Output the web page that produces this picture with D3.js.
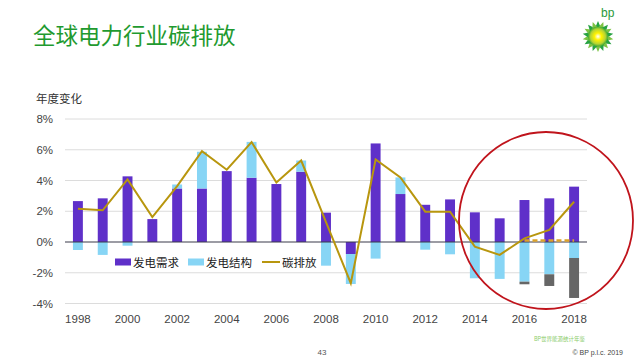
<!DOCTYPE html>
<html>
<head>
<meta charset="utf-8">
<script src="https://cdn.jsdelivr.net/npm/d3@7"></script>
<style>
  body { margin: 0; background: #fff; }
  text { font-family: "Liberation Sans", "Noto Sans CJK SC", sans-serif; }
</style>
</head>
<body>
<div class="d3Chart"></div>
<script>
//#region 資料

var years = d3.range(1998, 2019);
var tickYears = [1998, 2000, 2002, 2004, 2006, 2008, 2010, 2012, 2014, 2016, 2018];
var yTicks = [-4, -2, 0, 2, 4, 6, 8];

// 發電需求
var demand = [2.66, 2.84, 4.27, 1.49, 3.48, 3.48, 4.61, 4.18, 3.77, 4.57, 1.91,
  -0.78, 6.41, 3.12, 2.42, 2.77, 1.93, 1.54, 2.73, 2.84, 3.6];
// 發電結構
var structure = [-0.52, -0.84, -0.24, 0, 0.26, 2.39, 0, 2.33, 0, 0.73, -1.54,
  -1.95, -1.08, 1.08, -0.5, -0.8, -2.36, -2.4, -2.58, -2.1, -1.04];
// 其他 (灰色)
var other = [0, 0, 0, 0, 0, 0, 0, 0, 0, 0, 0,
  0, 0, 0, 0, 0, 0, 0, -0.17, -0.76, -2.6];
// 碳排放
var carbon = [2.16, 2.06, 4.07, 1.62, 3.64, 5.91, 4.7, 6.5, 3.87, 5.3, 1.3,
  -2.68, 5.37, 4.2, 1.97, 1.97, -0.3, -0.84, 0.24, 0.78, 2.62];
// 虛線
var dashYears = [2016, 2017, 2018];
var dashValues = [0.1, 0.1, 0.1];

var legendNames = ["发电需求", "发电结构", "碳排放"];

//#endregion

//#region 添加畫布

var width = 640;
var height = 360;
var svg = d3
  .select(".d3Chart")
  .append("svg")
  .attr("width", width)
  .attr("height", height)
  .style("background-color", "#fff");

var colors = { demand: "#5f30c9", structure: "#87d5f5", other: "#666666" };

//#endregion

//#region 比例尺

var x = d3
  .scaleBand()
  .domain(years)
  .range([65.5, 586.5])
  .paddingInner(0.6)
  .paddingOuter(0.3);

var y = d3.scaleLinear().domain([-4, 8]).range([303.5, 119]);

var rows = years.map((yr, i) => ({
  year: yr,
  demand: demand[i],
  structure: structure[i],
  other: other[i],
}));

var series = d3
  .stack()
  .keys(["demand", "structure", "other"])
  .offset(d3.stackOffsetDiverging)(rows);

//#endregion

//#region 標題與標誌

svg
  .append("text")
  .attr("x", 33)
  .attr("y", 44)
  .style("font-family", "'Noto Sans CJK SC'")
  .style("font-size", "22.5px")
  .attr("fill", "#1f9a2f")
  .text("全球电力行业碳排放");

var logo = svg.append("g").attr("transform", "translate(598,36.5)");
var grad = svg.append("defs").append("radialGradient").attr("id", "sun");
grad.append("stop").attr("offset", "0%").attr("stop-color", "#ffffff");
grad.append("stop").attr("offset", "35%").attr("stop-color", "#fff200");
grad.append("stop").attr("offset", "75%").attr("stop-color", "#b5d334");
grad.append("stop").attr("offset", "100%").attr("stop-color", "#3aa935");
logo
  .selectAll("path")
  .data(d3.range(18))
  .enter()
  .append("path")
  .attr("d", "M-3.2,-8 L0,-15.5 L3.2,-8 Z")
  .attr("transform", (d) => "rotate(" + d * 20 + ")")
  .attr("fill", (d) => (d % 2 ? "#7dc242" : "#27a243"));
logo.append("circle").attr("r", 10).attr("fill", "url(#sun)");
svg
  .append("text")
  .attr("x", 601)
  .attr("y", 17)
  .style("font-size", "12px")
  .attr("fill", "#2a9a3a")
  .text("bp");

//#endregion

//#region 座標軸

svg
  .append("text")
  .attr("x", 36)
  .attr("y", 103)
  .style("font-family", "'Noto Sans CJK SC'")
  .style("font-size", "11.5px")
  .attr("fill", "#333")
  .text("年度变化");

svg
  .append("g")
  .selectAll("line")
  .data(yTicks.filter((d) => d !== 0))
  .enter()
  .append("line")
  .attr("x1", 65)
  .attr("x2", 587)
  .attr("y1", (d) => y(d))
  .attr("y2", (d) => y(d))
  .attr("stroke", "#dcdcdc")
  .attr("stroke-width", 1);

svg
  .append("g")
  .selectAll("text")
  .data(yTicks)
  .enter()
  .append("text")
  .attr("x", 53)
  .attr("y", (d) => y(d) + 4)
  .attr("text-anchor", "end")
  .style("font-size", "11.5px")
  .attr("fill", "#444")
  .text((d) => d + "%");

svg
  .append("g")
  .selectAll("text")
  .data(tickYears)
  .enter()
  .append("text")
  .attr("x", (d) => x(d) + x.bandwidth() / 2)
  .attr("y", 323)
  .attr("text-anchor", "middle")
  .style("font-size", "11.5px")
  .attr("fill", "#444")
  .text((d) => d);

//#endregion

//#region 柱形

svg
  .append("g")
  .selectAll("g")
  .data(series)
  .enter()
  .append("g")
  .attr("fill", (s) => colors[s.key])
  .selectAll("rect")
  .data((s) => s)
  .enter()
  .append("rect")
  .attr("x", (d) => x(d.data.year))
  .attr("width", x.bandwidth())
  .attr("y", (d) => y(Math.max(d[0], d[1])))
  .attr("height", (d) => Math.abs(y(d[0]) - y(d[1])));

// 零線
svg
  .append("line")
  .attr("x1", 65)
  .attr("x2", 587)
  .attr("y1", y(0))
  .attr("y2", y(0))
  .attr("stroke", "#3a3a4a")
  .attr("stroke-width", 1.2);

//#endregion

//#region 折線

var line = d3
  .line()
  .x((d) => x(d[0]) + x.bandwidth() / 2)
  .y((d) => y(d[1]));

svg
  .append("path")
  .attr("d", line(d3.zip(dashYears, dashValues)))
  .attr("fill", "none")
  .attr("stroke", "#dca22a")
  .attr("stroke-width", 2.5)
  .attr("stroke-dasharray", "5,3");

svg
  .append("path")
  .attr("d", line(d3.zip(years, carbon)))
  .attr("fill", "none")
  .attr("stroke", "#b8960e")
  .attr("stroke-width", 2);

//#endregion

//#region 圖例

var legend = svg.append("g").attr("transform", "translate(115,262)");
var legendX = [0, 73, 147];
legend
  .selectAll("rect")
  .data([colors.demand, colors.structure])
  .enter()
  .append("rect")
  .attr("x", (d, i) => legendX[i])
  .attr("y", -3.5)
  .attr("width", 16)
  .attr("height", 7)
  .attr("fill", (d) => d);
legend
  .append("line")
  .attr("x1", legendX[2])
  .attr("x2", legendX[2] + 18)
  .attr("stroke", "#b8960e")
  .attr("stroke-width", 2);
legend
  .selectAll("text")
  .data(legendNames)
  .enter()
  .append("text")
  .attr("x", (d, i) => legendX[i] + (i === 2 ? 20 : 18))
  .attr("y", 4.5)
  .style("font-family", "'Noto Sans CJK SC'")
  .style("font-size", "11.5px")
  .attr("fill", "#222")
  .text((d) => d);

//#endregion

//#region 紅圈與頁腳

svg
  .append("ellipse")
  .attr("cx", 546)
  .attr("cy", 220.5)
  .attr("rx", 87)
  .attr("ry", 88.5)
  .attr("fill", "none")
  .attr("stroke", "#c0141c")
  .attr("stroke-width", 1.8);

svg
  .append("text")
  .attr("x", 322)
  .attr("y", 355)
  .attr("text-anchor", "middle")
  .style("font-size", "8px")
  .attr("fill", "#555")
  .text("43");

svg
  .append("text")
  .attr("x", 585)
  .attr("y", 341)
  .attr("text-anchor", "end")
  .style("font-family", "'Noto Sans CJK SC'")
  .style("font-size", "5.5px")
  .attr("fill", "#8ccc6a")
  .text("BP世界能源统计年鉴");

svg
  .append("text")
  .attr("x", 623)
  .attr("y", 355)
  .attr("text-anchor", "end")
  .style("font-size", "7px")
  .attr("fill", "#444")
  .text("© BP p.l.c. 2019");

//#endregion
</script>
</body>
</html>
